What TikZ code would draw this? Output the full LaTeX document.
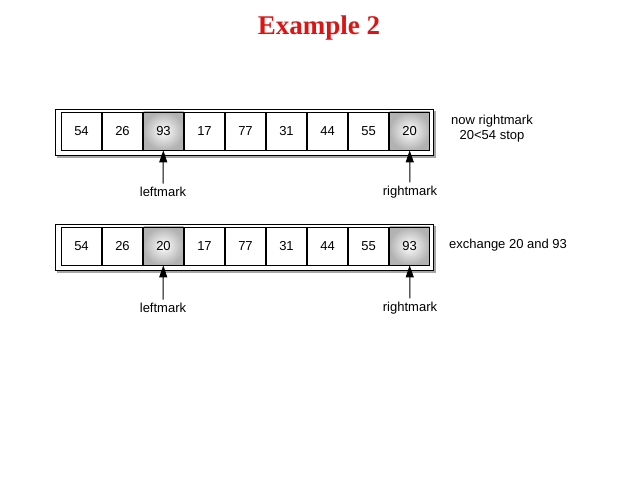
\documentclass[tikz,border=0pt]{standalone}
\usepackage{fontspec}
\setmainfont{Liberation Sans}
\newfontfamily\titlefont{Liberation Serif}
\usetikzlibrary{arrows.meta}
\definecolor{titlered}{RGB}{220,20,20}
\begin{document}
\begin{tikzpicture}[x=1pt,y=-1pt,
  outer/.style={draw=black,line width=0.9pt,fill=white},
  shadow/.style={fill=black!35},
  cell/.style={draw=black,line width=0.8pt,minimum width=40pt,minimum height=38pt,inner sep=0pt,font=\fontsize{13}{15}\selectfont,fill=white},
  hcell/.style={cell,inner color=white,outer color=gray!60},
  lab/.style={font=\fontsize{13}{15}\selectfont},
  arr/.style={-{Triangle[length=12pt,width=8pt]},line width=1pt}]
\useasboundingbox (0,0) rectangle (638,478);
\node[font=\titlefont\bfseries\fontsize{27}{31}\selectfont,text=titlered] (title) at (319,28) {Example 2};
% row 1
\fill[shadow] (57,111) rectangle (436,158);
\draw[outer] (55,109) rectangle (433,155);
\foreach \v/\i [count=\k from 0] in {54/a1,26/a2,93/a3,17/a4,77/a5,31/a6,44/a7,55/a8,20/a9}{
  \node[cell] (\i) at (81.5+41*\k,131) {\v};}
\node[hcell] (a3) at (163.5,131) {93};
\node[hcell] (a9) at (409.5,131) {20};
\node[lab] (l1) at (163,192) {leftmark};
\node[lab] (r1) at (410,192) {rightmark};
\draw[arr] (l1) -- (a3);
\draw[arr] (r1) -- (a9);
\node[lab,align=center] (t1) at (492,129) {now rightmark\\20<54 stop};
% row 2
\fill[shadow] (57,226) rectangle (436,273);
\draw[outer] (55,224) rectangle (433,270);
\foreach \v/\i [count=\k from 0] in {54/b1,26/b2,20/b3,17/b4,77/b5,31/b6,44/b7,55/b8,93/b9}{
  \node[cell] (\i) at (81.5+41*\k,246) {\v};}
\node[hcell] (b3) at (163.5,246) {20};
\node[hcell] (b9) at (409.5,246) {93};
\node[lab] (l2) at (163,308) {leftmark};
\node[lab] (r2) at (410,308) {rightmark};
\draw[arr] (l2) -- (b3);
\draw[arr] (r2) -- (b9);
\node[lab] (t2) at (508,245) {exchange 20 and 93};
\end{tikzpicture}
\end{document}
